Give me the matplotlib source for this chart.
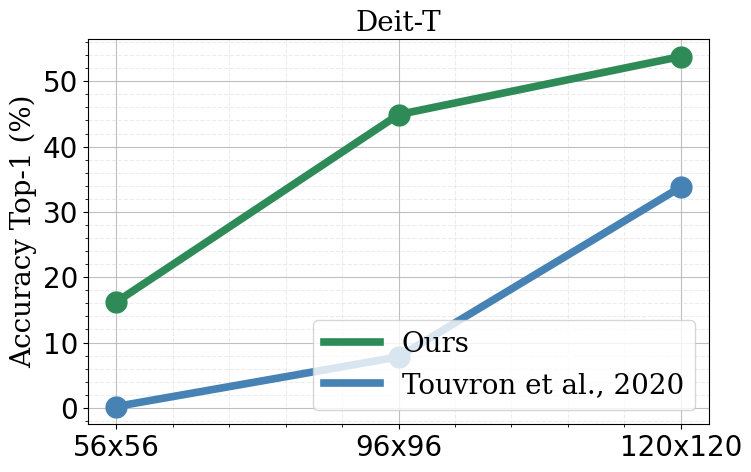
import matplotlib
matplotlib.use("Agg")
import matplotlib.pyplot as plt
from matplotlib.ticker import AutoMinorLocator

categories = ["56x56", "96x96", "120x120"]
ours = [16.2, 44.9, 53.8]
touvron = [0.2, 7.8, 33.8]
series_labels = ["Ours", "Touvron et al., 2020"]
title = "Deit-T"
ylabel = "Accuracy Top-1 (%)"

fig = plt.figure(figsize=(7.51, 4.72), dpi=100)
ax = fig.add_axes([88/751, 1-424/472, (709-88)/751, (424-39)/472])

x = list(range(len(categories)))
green = "#2E8B57"
blue = "#4682B4"
ax.plot(x, ours, color=green, lw=5.5, label=series_labels[0])
ax.plot(x, ours, 'o', color=green, ms=15)
ax.plot(x, touvron, color=blue, lw=5.5, label=series_labels[1])
ax.plot(x, touvron, 'o', color=blue, ms=15)

ax.set_xticks(x)
ax.set_xticklabels(categories, fontsize=20)
ax.tick_params(axis='y', labelsize=20)
ax.xaxis.set_minor_locator(AutoMinorLocator(5))
ax.yaxis.set_minor_locator(AutoMinorLocator(5))
ax.grid(True, which='major', color='#b0b0b0', lw=0.8, alpha=0.8)
ax.grid(True, which='minor', color='#e0e0e0', lw=0.8, ls='--', alpha=0.6)
ax.set_axisbelow(True)

ax.set_title(title, fontsize=20, family='DejaVu Serif')
ax.set_ylabel(ylabel, fontsize=20, family='DejaVu Serif')
ax.legend(loc='lower right', prop={'family': 'DejaVu Serif', 'size': 20})

fig.savefig("out.png", dpi=100)
